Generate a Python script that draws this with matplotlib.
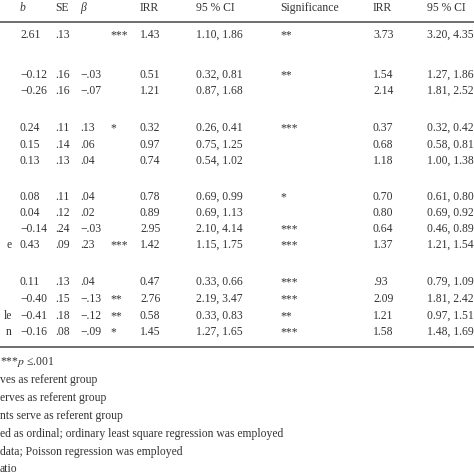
import matplotlib
matplotlib.use("Agg")
import matplotlib.pyplot as plt

headers = ["b", "SE", "β", "", "IRR", "95 % CI", "Significance", "IRR", "95 % CI"]
col_x = [20, 55, 80, 110, 140, 196, 280, 373, 427]

row_labels = ["", "", "", "", "", "", "", "", "", "e", "", "", "le", "n"]
b_vals = ["2.61", "−0.12", "−0.26", "0.24", "0.15", "0.13", "0.08", "0.04", "−0.14", "0.43", "0.11", "−0.40", "−0.41", "−0.16"]
se_vals = [".13", ".16", ".16", ".11", ".14", ".13", ".11", ".12", ".24", ".09", ".13", ".15", ".18", ".08"]
beta_vals = ["", "−.03", "−.07", ".13", ".06", ".04", ".04", ".02", "−.03", ".23", ".04", "−.13", "−.12", "−.09"]
sig1 = ["***", "", "", "*", "", "", "", "", "", "***", "", "**", "**", "*"]
irr1 = ["1.43", "0.51", "1.21", "0.32", "0.97", "0.74", "0.78", "0.89", "2.95", "1.42", "0.47", "2.76", "0.58", "1.45"]
ci1 = ["1.10, 1.86", "0.32, 0.81", "0.87, 1.68", "0.26, 0.41", "0.75, 1.25", "0.54, 1.02", "0.69, 0.99",
       "0.69, 1.13", "2.10, 4.14", "1.15, 1.75", "0.33, 0.66", "2.19, 3.47", "0.33, 0.83", "1.27, 1.65"]
sig2 = ["**", "**", "", "***", "", "", "*", "", "***", "***", "***", "***", "**", "***"]
irr2 = ["3.73", "1.54", "2.14", "0.37", "0.68", "1.18", "0.70", "0.80", "0.64", "1.37", ".93", "2.09", "1.21", "1.58"]
ci2 = ["3.20, 4.35", "1.27, 1.86", "1.81, 2.52", "0.32, 0.42", "0.58, 0.81", "1.00, 1.38", "0.61, 0.80",
       "0.69, 0.92", "0.46, 0.89", "1.21, 1.54", "0.79, 1.09", "1.81, 2.42", "0.97, 1.51", "1.48, 1.69"]
row_y = [35, 75, 91, 128, 145, 161, 197, 213, 229, 245, 282, 299, 316, 332]

footnotes = ["***$p$ ≤.001", "ves as referent group", "erves as referent group", "nts serve as referent group",
             "ed as ordinal; ordinary least square regression was employed",
             "data; Poisson regression was employed", "atio"]
foot_y = [362, 380, 398, 416, 434, 452, 469]

plt.rcParams["font.family"] = ["Liberation Serif", "DejaVu Serif"]
plt.rcParams["mathtext.fontset"] = "stix"
fig = plt.figure(figsize=(4.74, 4.74), dpi=100)
ax = fig.add_axes([0, 0, 1, 1])
ax.set_xlim(0, 474)
ax.set_ylim(474, 0)
ax.axis("off")

fs = 8.4
col_color = "#333333"
for x, h in zip(col_x, headers):
    style = "italic" if h in ("b", "β") else "normal"
    ax.text(x, 8, h, fontsize=fs, style=style, color=col_color, va="center")
ax.plot([0, 474], [22, 22], color="#555555", lw=1.2)
ax.plot([0, 474], [347, 347], color="#555555", lw=1.2)

columns = [b_vals, se_vals, beta_vals, sig1, irr1, ci1, sig2, irr2, ci2]
for i, y in enumerate(row_y):
    if row_labels[i]:
        ax.text(12, y, row_labels[i], fontsize=fs, color=col_color, va="center", ha="right")
    for x, col in zip(col_x, columns):
        ax.text(x, y, col[i], fontsize=fs, color=col_color, va="center")

for y, t in zip(foot_y, footnotes):
    ax.text(0, y, t, fontsize=fs, color=col_color, va="center")

fig.savefig("out.png", dpi=100, facecolor="white")
